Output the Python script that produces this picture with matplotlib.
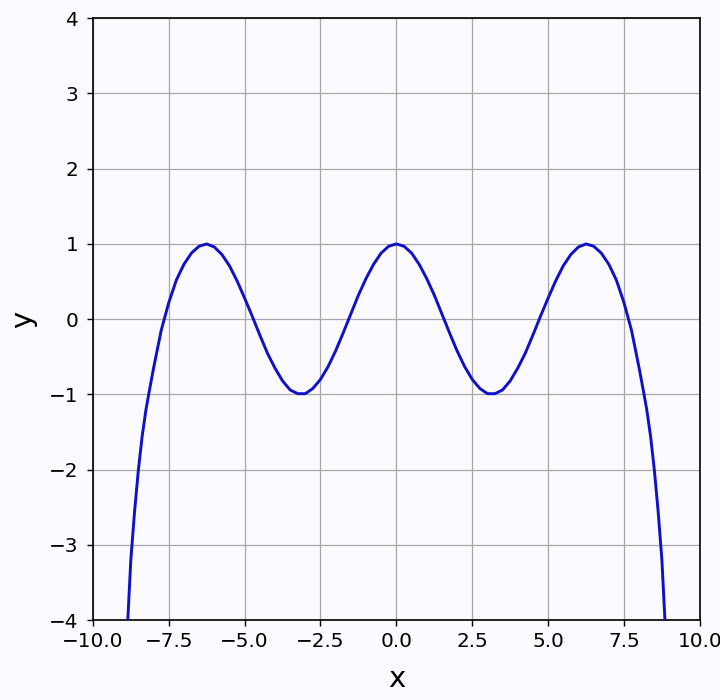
import matplotlib
matplotlib.use("Agg")
import matplotlib.pyplot as plt

x_vals = [-8.9, -8.85, -8.75, -8.625, -8.5, -8.375, -8.25, -8.125, -8.0, -7.75, -7.5, -7.25, -7.0, -6.75, -6.5,
          -6.25, -6.0, -5.75, -5.5, -5.25, -5.0, -4.75, -4.5, -4.25, -4.0, -3.75, -3.5,
          -3.25, -3.0, -2.75, -2.5, -2.25, -2.0, -1.75, -1.5, -1.25, -1.0, -0.75, -0.5,
          -0.25, 0.0, 0.25, 0.5, 0.75, 1.0, 1.25, 1.5, 1.75, 2.0, 2.25, 2.5, 2.75, 3.0,
          3.25, 3.5, 3.75, 4.0, 4.25, 4.5, 4.75, 5.0, 5.25, 5.5, 5.75, 6.0, 6.25, 6.5,
          6.75, 7.0, 7.25, 7.5, 7.75, 8.0, 8.125, 8.25, 8.375, 8.5, 8.625, 8.75, 8.85, 8.9]
y_vals = [-4.5, -4.0, -3.2, -2.55, -2.0, -1.55, -1.2, -0.92, -0.65, -0.15, 0.22, 0.52, 0.73, 0.88, 0.97,
          1.00, 0.96, 0.86, 0.71, 0.51, 0.28, 0.04, -0.21, -0.45, -0.65, -0.82, -0.94,
          -0.99, -0.99, -0.92, -0.80, -0.63, -0.42, -0.18, 0.07, 0.32, 0.54, 0.73, 0.88,
          0.97, 1.00, 0.97, 0.88, 0.73, 0.54, 0.32, 0.07, -0.18, -0.42, -0.63, -0.80, -0.92, -0.99,
          -0.99, -0.94, -0.82, -0.65, -0.45, -0.21, 0.04, 0.28, 0.51, 0.71, 0.86, 0.96, 1.00, 0.97,
          0.88, 0.73, 0.52, 0.22, -0.15, -0.65, -0.92, -1.2, -1.55, -2.0, -2.55, -3.2, -4.0, -4.5]

x_ticks = [-10.0, -7.5, -5.0, -2.5, 0.0, 2.5, 5.0, 7.5, 10.0]
y_ticks = [-4, -3, -2, -1, 0, 1, 2, 3, 4]

bg = "#fafaff"
fig = plt.figure(figsize=(7.2, 7.0), dpi=100, facecolor=bg)
ax = fig.add_axes([0.129, 0.114, 0.843, 0.86], facecolor=bg)

ax.plot(x_vals, y_vals, color="#1010c8", linewidth=2.1, zorder=3)
ax.set_xlim(-10, 10)
ax.set_ylim(-4, 4)
ax.set_xticks(x_ticks)
ax.set_yticks(y_ticks)
ax.grid(True, color="#a8a8a8", linewidth=0.9)
ax.tick_params(axis="both", labelsize=14.4, length=4.6, width=1.0)
ax.tick_params(axis="x", pad=4)
ax.tick_params(axis="y", pad=6)
ax.set_xlabel("x", fontsize=21, labelpad=10)
ax.set_ylabel("y", fontsize=21, labelpad=8)
for s in ax.spines.values():
    s.set_linewidth(1.2)

fig.savefig("out.png", dpi=100, facecolor=bg)
